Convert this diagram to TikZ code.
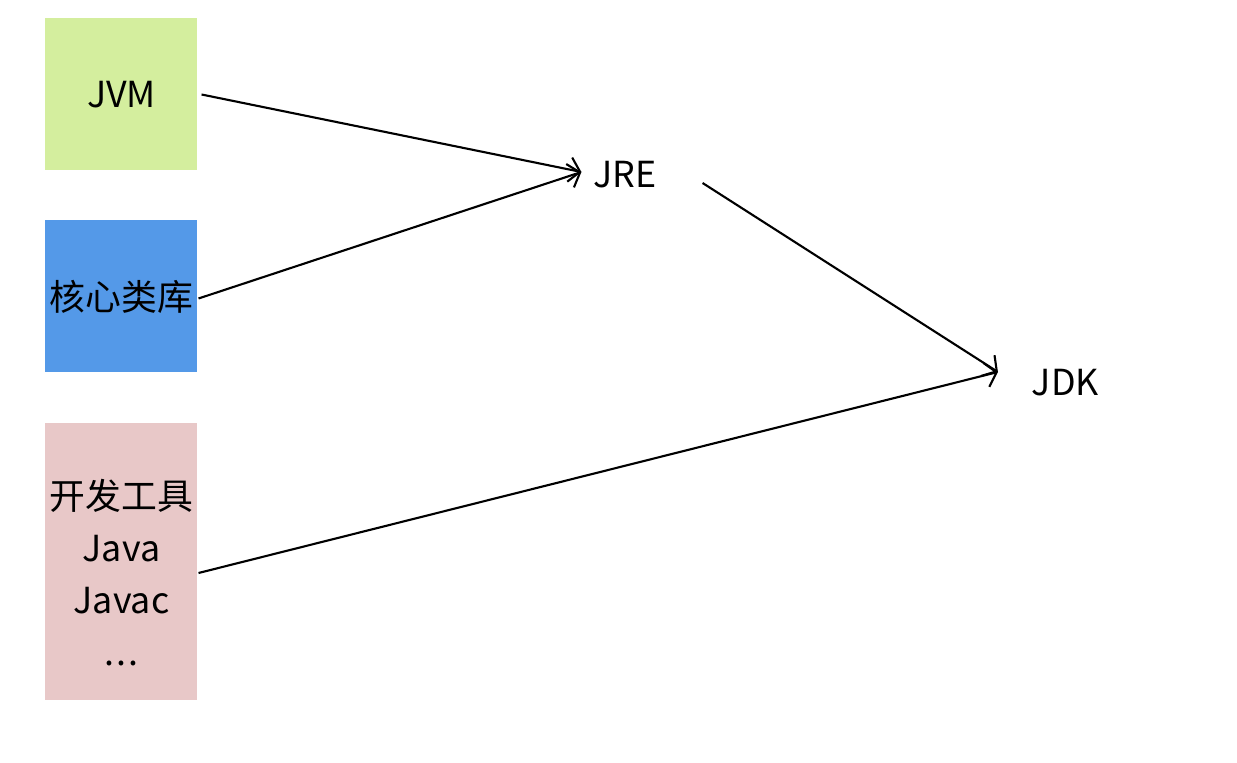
\documentclass[tikz,border=0pt]{standalone}
\usepackage{fontspec}
\setmainfont{Noto Sans CJK SC}
\usepackage{tikz}
\usetikzlibrary{arrows.meta}
\usetikzlibrary{positioning}
\usetikzlibrary{calc}
\definecolor{jvmgreen}{HTML}{D4EE9E}
\definecolor{libblue}{HTML}{5499E8}
\definecolor{toolpink}{HTML}{E8C8C8}
\tikzstyle{part}=[minimum width=1.52cm,minimum height=1.52cm,inner sep=0pt,align=center]

\begin{document}
\begin{tikzpicture}[line width=0.6pt,font=\fontsize{10.2pt}{14.8pt}\selectfont]
\useasboundingbox (0,0) rectangle (12.37,-7.63);
\tikzstyle{label}=[inner sep=0.1cm]
\node [part,fill=jvmgreen] (jvm) at (1.215,-0.945) {JVM};
\node [part,fill=libblue] (lib) at (1.215,-2.965) {核心类库};
\node [part,fill=toolpink,minimum height=2.77cm] (tools) at (1.215,-5.615) {};
\node [align=center,inner sep=0pt] (toolstext) at ([yshift=-0.11cm]tools.center)
  {开发工具\\Java\\Javac\\.\hspace{0.6pt}.\hspace{0.6pt}.};
\node [label] (jre) at (6.25,-1.75) {JRE};
\node [label] (jdk) at (10.655,-3.83) {JDK};

\coordinate (A) at ([xshift=0.03cm]jvm.east);
\coordinate (B) at ([yshift=-0.02cm]lib.east);
\coordinate (C) at ([yshift=-0.115cm]tools.east);
\coordinate (D) at ([xshift=0.35cm,yshift=-0.08cm]jre.east);
\coordinate (E) at ([xshift=-0.01cm,yshift=0.03cm]jre.west);
\coordinate (F) at ([xshift=-0.23cm,yshift=0.11cm]jdk.west);

%\draw (jvm.east) -- (jre.west);
\draw[->,>={Straight Barb[length=3pt,width=7pt]}] (A) -- (E);
\draw[->,>={Straight Barb[length=3pt,width=7pt]}] (B) -- (E);
\draw[->,>={Straight Barb[length=3pt,width=7pt]}] (D) -- (F);
\draw[->,>={Straight Barb[length=3pt,width=7pt]}] (C) -- (F);
\end{tikzpicture}
\end{document}
